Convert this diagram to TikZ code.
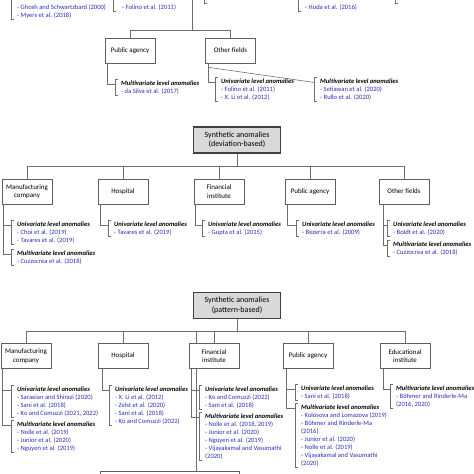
\documentclass[tikz,border=0pt]{standalone}
\usepackage{fontspec}
\setmainfont{Carlito}
\usetikzlibrary{calc, positioning, backgrounds}
\definecolor{refblue}{RGB}{45,45,185}
\definecolor{linegray}{RGB}{110,110,110}
\definecolor{boxgray}{RGB}{95,95,95}
\definecolor{secfill}{RGB}{217,217,217}
\definecolor{secdraw}{RGB}{65,65,65}
\tikzset{
  field/.style = {rectangle, draw=boxgray, fill=white, line width=0.6bp,
                  minimum width=50bp, minimum height=25bp, inner sep=1bp,
                  align=center, font=\fontsize{7}{8.6}\selectfont},
  section/.style = {field, fill=secfill, draw=secdraw, line width=1.2bp,
                    minimum width=87bp, minimum height=26bp,
                    font=\fontsize{8}{9.4}\selectfont},
  refs/.style = {anchor=north west, inner sep=0pt, align=left,
                 font=\fontsize{6.6}{8}\selectfont},
  conn/.style = {draw=linegray, line width=0.6bp},
  brk/.style = {conn},
}
\newcommand{\hd}[1]{\textbf{\textit{#1}}}
\newcommand{\rf}[1]{\textcolor{refblue}{#1}}
% group of references with its bracket
\newcommand{\litgroup}[4]{%
  \node[refs] (#1) at (#2,#3) {#4};
  \draw[brk] ([xshift=-3.5bp,yshift=1bp]#1.north west) -- ++(-2,0)
    |- ([xshift=-3.5bp,yshift=-1bp]#1.south west);
  \coordinate (#1-in) at ([xshift=-5.5bp,yshift=-4bp]#1.north west);
}
\begin{document}
\begin{tikzpicture}[x=1bp, y=-1bp]
  \useasboundingbox (0,0) rectangle (474,474);

  % 上一部分（被截去）
  \coordinate (root) at (192,-5);
  \node (pub1) [field] at (130,50.5) {Public agency};
  \node (oth1) [field] at (230.5,50.5) {Other fields};
  \draw[conn] (root) -- ++(0,35) -| (pub1.north);
  \draw[conn] (root) -- ++(0,35) -| (oth1.north);

  \node (top1) [refs] at (17,4.5) {\rf{- Ghosh and Schwartzbard (2000)}\\ \rf{- Myers et al. (2018)}};
  \node (top2) [refs] at (122,4.5) {\rf{- Folino et al. (2011)}};
  \node (top4) [refs] at (305,4.5) {\rf{- Huda et al. (2016)}};
  \draw[brk] (11,-5) |- ++(2.5,24);
  \draw[brk] (113,-5) |- ++(2.5,16);
  \draw[brk] (204,-5) |- ++(2.5,8);
  \draw[brk] (298,-5) |- ++(2.5,16);
  \draw[brk] (395,-5) |- ++(2.5,8);

  \litgroup{pub1a}{121}{80.5}{\hd{Multivariate level anomalies}\\ \rf{- da Silva et al. (2017)}}
  \litgroup{oth1a}{221}{78.5}{\hd{Univariate level anomalies}\\ \rf{- Folino et al. (2011)}\\ \rf{- X. Li et al. (2012)}}
  \litgroup{oth1b}{320}{78.5}{\hd{Multivariate level anomalies}\\ \rf{- Setiawan et al. (2020)}\\ \rf{- Rullo et al. (2020)}}
  \draw[conn] ([xshift=3bp]pub1.south west) |- (pub1a-in);
  \draw[conn] ([xshift=3bp]oth1.south west) |- (oth1a-in);
  \draw[conn] ([xshift=3bp,yshift=-4bp]oth1.south west) -- (oth1b-in);

  % deviation-based
  \node (dev) [section] at (237,140) {Synthetic anomalies\\(deviation-based)};
  \node (mc2) [field] at (27,191.5) {Manufacturing\\company};
  \node (hosp2) [field] at (123,191.5) {Hospital};
  \node (fin2) [field] at (219,191.5) {Financial\\institute};
  \node (pub2) [field] at (310,191.5) {Public agency};
  \node (oth2) [field] at (404,191.5) {Other fields};
  \foreach \b in {mc2,hosp2,fin2,pub2,oth2}
    \draw[conn] (dev.south) -- ++(0,13) -| (\b.north);

  \litgroup{mc2a}{17}{221.5}{\hd{Univariate level anomalies}\\ \rf{- Choi et al. (2019)}\\ \rf{- Tavares et al. (2019)}}
  \litgroup{mc2b}{17}{250.5}{\hd{Multivariate level anomalies}\\ \rf{- Cuzzocrea et al. (2018)}}
  \litgroup{hosp2a}{114}{221.5}{\hd{Univariate level anomalies}\\ \rf{- Tavares et al. (2019)}}
  \litgroup{fin2a}{208}{221.5}{\hd{Univariate level anomalies}\\ \rf{- Gupta et al. (2015)}}
  \litgroup{pub2a}{302}{221.5}{\hd{Univariate level anomalies}\\ \rf{- Bezerra et al. (2009)}}
  \litgroup{oth2a}{393}{221.5}{\hd{Univariate level anomalies}\\ \rf{- Boldt et al. (2020)}}
  \litgroup{oth2b}{393}{241.5}{\hd{Multivariate level anomalies}\\ \rf{- Cuzzocrea et al. (2018)}}
  \draw[conn] ([xshift=2bp]mc2.south west) |- (mc2a-in);
  \draw[conn] ([xshift=2bp]mc2.south west) |- (mc2b-in);
  \draw[conn] ([xshift=3bp]hosp2.south west) |- (hosp2a-in);
  \draw[conn] ([xshift=2bp]fin2.south west) |- (fin2a-in);
  \draw[conn] ([xshift=3bp]pub2.south west) |- (pub2a-in);
  \draw[conn] ([xshift=5bp]oth2.south west) |- (oth2a-in);
  \draw[conn] ([xshift=5bp]oth2.south west) |- (oth2b-in);

  % pattern-based
  \node (pat) [section] at (237,305.5) {Synthetic anomalies\\(pattern-based)};
  \node (mc3) [field] at (26,356) {Manufacturing\\company};
  \node (hosp3) [field] at (123,356) {Hospital};
  \node (fin3) [field] at (214,356) {Financial\\institute};
  \node (pub3) [field] at (308,356) {Public agency};
  \node (edu3) [field] at (405,356) {Educational\\institute};
  \node (next) [field, minimum width=139bp] at (169.5,483.5) {};
  \foreach \b in {mc3,hosp3,fin3,pub3,edu3}
    \draw[conn] (pat.south) -- ++(0,12.5) -| (\b.north);
  \begin{pgfonlayer}{background}
    \draw[conn] (pat.south) -- ++(0,12.5) -| ([xshift=26.5bp]next.north);
  \end{pgfonlayer}

  \litgroup{mc3a}{17}{386.5}{\hd{Univariate level anomalies}\\ \rf{- Saraeian and Shirazi (2020)}\\ \rf{- Sani et al. (2018)}\\ \rf{- Ko and Comuzzi (2021, 2022)}}
  \litgroup{mc3b}{17}{421.5}{\hd{Multivariate level anomalies}\\ \rf{- Nolle et al. (2019)}\\ \rf{- Junior et al. (2020)}\\ \rf{- Nguyen et al. (2019)}}
  \litgroup{hosp3a}{115}{386.5}{\hd{Univariate level anomalies}\\ \rf{- X. Li et al. (2012)}\\ \rf{- Zelst et al. (2020)}\\ \rf{- Sani et al. (2018)}\\ \rf{- Ko and Comuzzi (2022)}}
  \litgroup{fin3a}{205}{386.5}{\hd{Univariate level anomalies}\\ \rf{- Ko and Comuzzi (2022)}\\ \rf{- Sani et al. (2018)}}
  \litgroup{fin3b}{205}{413.5}{\hd{Multivariate level anomalies}\\ \rf{- Nolle et al. (2018, 2019)}\\ \rf{- Junior et al. (2020)}\\ \rf{- Nguyen et al. (2019)}\\ \rf{- Vijayakamal and Vasumathi}\\ \rf{(2020)}}
  \litgroup{pub3a}{301}{385.5}{\hd{Univariate level anomalies}\\ \rf{- Sani et al. (2018)}}
  \litgroup{pub3b}{301}{404.5}{\hd{Multivariate level anomalies}\\ \rf{- Kolosova and Lomazova (2019)}\\ \rf{- Böhmer and Rinderle-Ma}\\ \rf{(2016)}\\ \rf{- Junior et al. (2020)}\\ \rf{- Nolle et al. (2019)}\\ \rf{- Vijayakamal and Vasumathi}\\ \rf{(2020)}}
  \litgroup{edu3a}{396}{385.5}{\hd{Multivariate level anomalies}\\ \rf{- Böhmer and Rinderle-Ma}\\ \rf{(2016, 2020)}}
  \draw[conn] ([xshift=2bp]mc3.south west) |- (mc3a-in);
  \draw[conn] ([xshift=2bp]mc3.south west) |- (mc3b-in);
  \draw[conn] ([xshift=5bp]hosp3.south west) |- (hosp3a-in);
  \draw[conn] ([xshift=2.5bp]fin3.south west) |- (fin3a-in);
  \draw[conn] ([xshift=2.5bp]fin3.south west) |- (fin3b-in);
  \draw[conn] ([xshift=4bp]pub3.south west) |- (pub3a-in);
  \draw[conn] ([xshift=4bp]pub3.south west) |- (pub3b-in);
  \draw[conn] ([xshift=4bp]edu3.south west) |- (edu3a-in);

\end{tikzpicture}
\end{document}
